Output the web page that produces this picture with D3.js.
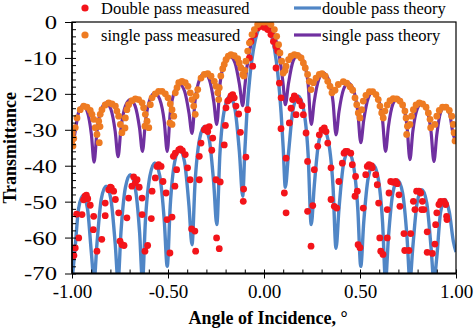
<!DOCTYPE html>
<html>
<head>
<meta charset="utf-8">
<script src="https://cdn.jsdelivr.net/npm/d3@7"></script>
<style>
  body { margin: 0; background: #fff; }
  svg { display: block; }
  text { font-family: "Liberation Serif", "Times New Roman", serif; fill: #000; }
</style>
</head>
<body>
<div id="wrapper"></div>
<script>
// angle of incidence (deg), transmittance (dB)
const doubleTheory = [
  [-1.0,-72],[-0.986,-64.3],[-0.9655,-51.9],[-0.9425,-48.3],[-0.9195,-51.9],[-0.899,-64.3],
  [-0.885,-72],[-0.87,-61.7],[-0.8475,-49.3],[-0.8225,-45.7],[-0.7975,-49.3],[-0.775,-61.7],
  [-0.76,-72],[-0.745,-58.5],[-0.722,-46.1],[-0.6965,-42.5],[-0.671,-46.1],[-0.648,-58.5],
  [-0.633,-72],[-0.6175,-55.2],[-0.594,-42.8],[-0.5685,-39.2],[-0.543,-42.8],[-0.5195,-55.2],
  [-0.504,-68],[-0.4885,-51.3],[-0.465,-38.9],[-0.4395,-35.3],[-0.414,-38.9],[-0.3905,-51.3],
  [-0.375,-62],[-0.3595,-45.1],[-0.336,-32.7],[-0.3105,-29.1],[-0.285,-32.7],[-0.2615,-45.1],
  [-0.246,-56.4],[-0.2295,-36.6],[-0.2055,-24.2],[-0.1785,-20.6],[-0.1515,-24.2],[-0.1275,-36.6],
  [-0.111,-48.5],[-0.1,-36],[-0.089,-25.2],[-0.072,-14.4],[-0.0555,-7.8],[-0.033,-2.6],[0,0],
  [0.033,-2.6],[0.0555,-7.8],[0.072,-14.4],[0.089,-25.2],[0.1,-35],
  [0.111,-46],[0.1275,-36.6],[0.1515,-24.2],[0.1785,-20.6],[0.2055,-24.2],[0.2295,-36.6],
  [0.246,-56.4],[0.2615,-45.8],[0.285,-33.4],[0.3105,-29.8],[0.336,-33.4],[0.3595,-45.8],
  [0.375,-63],[0.3905,-52],[0.414,-39.6],[0.4395,-36],[0.465,-39.6],[0.4885,-52],
  [0.504,-68],[0.5195,-55.7],[0.543,-43.3],[0.5685,-39.7],[0.594,-43.3],[0.6175,-55.7],
  [0.633,-72],[0.648,-60],[0.671,-47.6],[0.6965,-44],[0.722,-47.6],[0.745,-60],
  [0.76,-72],[0.775,-62.7],[0.7975,-50.3],[0.8225,-46.7],[0.8475,-50.3],[0.87,-62.7],
  [0.885,-72],[0.9,-65.4],[0.9195,-53],[0.9425,-49.4],[0.9655,-53],[0.986,-61],[1.0,-64]
]

const singleTheory = [
  [-1.0,-35],[-0.986,-31.3],[-0.9655,-25.1],[-0.9425,-23.3],[-0.9195,-25.1],[-0.899,-31.3],
  [-0.885,-39],[-0.87,-30.5],[-0.8475,-24.3],[-0.8225,-22.5],[-0.7975,-24.3],[-0.775,-30.5],
  [-0.76,-37.5],[-0.745,-29.6],[-0.722,-23.4],[-0.6965,-21.6],[-0.671,-23.4],[-0.648,-29.6],
  [-0.633,-36],[-0.6175,-27.7],[-0.594,-21.5],[-0.5685,-19.7],[-0.543,-21.5],[-0.5195,-27.7],
  [-0.504,-36],[-0.4885,-25.4],[-0.465,-19.2],[-0.4395,-17.4],[-0.414,-19.2],[-0.3905,-25.4],
  [-0.375,-31],[-0.3595,-22.2],[-0.336,-16],[-0.3105,-14.2],[-0.285,-16],[-0.2615,-22.2],
  [-0.246,-28.5],[-0.2295,-17.5],[-0.2055,-11.3],[-0.1785,-9.5],[-0.1515,-11.3],[-0.1275,-17.5],
  [-0.111,-23.3],[-0.1,-18],[-0.089,-12.6],[-0.072,-7.2],[-0.0555,-3.9],[-0.033,-1.3],[0,0],
  [0.033,-1.3],[0.0555,-3.9],[0.072,-7.2],[0.089,-12.6],[0.1,-17.5],
  [0.111,-23],[0.1275,-17.1],[0.1515,-10.9],[0.1785,-9.1],[0.2055,-10.9],[0.2295,-17.1],
  [0.246,-28.5],[0.2615,-22.2],[0.285,-16],[0.3105,-14.2],[0.336,-16],[0.3595,-22.2],
  [0.375,-31.4],[0.3905,-25],[0.414,-18.8],[0.4395,-17],[0.465,-18.8],[0.4885,-25],
  [0.504,-33.6],[0.5195,-27.3],[0.543,-21.1],[0.5685,-19.3],[0.594,-21.1],[0.6175,-27.3],
  [0.633,-36],[0.648,-29.1],[0.671,-22.9],[0.6965,-21.1],[0.722,-22.9],[0.745,-29.1],
  [0.76,-38.3],[0.775,-30.5],[0.7975,-24.3],[0.8225,-22.5],[0.8475,-24.3],[0.87,-30.5],
  [0.885,-38.8],[0.9,-31.4],[0.9195,-25.2],[0.9425,-23.4],[0.9655,-25.2],[0.986,-31.4],[1.0,-33]
]

const doubleMeasured = [
  [-0.99,-65],[-0.983,-62.9],[-0.976,-53.5],[-0.965,-60.1],[-0.948,-53.6],[-0.94,-49.5],[-0.932,-48.5],
  [-0.925,-48.2],[-0.918,-49.2],[-0.905,-51],[-0.887,-54.1],[-0.889,-57.8],[-0.87,-63.8],
  [-0.845,-60.5],[-0.827,-53.9],[-0.827,-50.4],[-0.809,-46.7],[-0.8,-46],[-0.795,-46.2],[-0.783,-47.1],
  [-0.774,-49.4],[-0.757,-53.1],[-0.75,-61],[-0.74,-62],[-0.729,-62.2],
  [-0.714,-54.5],[-0.705,-49],[-0.688,-45.7],[-0.679,-43.1],[-0.67,-44.8],[-0.661,-43.9],[-0.65,-46],
  [-0.635,-49],[-0.635,-53.6],[-0.62,-63.8],[-0.606,-62.2],
  [-0.587,-54.7],[-0.583,-47.1],[-0.566,-43.4],[-0.557,-40.2],[-0.549,-39.7],[-0.536,-40.2],[-0.526,-44.4],
  [-0.51,-47.6],[-0.505,-55],[-0.49,-64.3],[-0.479,-54.3],
  [-0.472,-37.4],[-0.464,-45.7],[-0.462,-36.5],[-0.455,-41.1],[-0.444,-35.6],[-0.436,-35.3],[-0.425,-35.8],
  [-0.41,-36.9],[-0.398,-40.6],[-0.385,-43.9],[-0.377,-57.6],[-0.36,-58.2],[-0.356,-63.8],
  [-0.337,-43.9],[-0.337,-37.4],[-0.328,-33.7],[-0.311,-30],[-0.302,-29.5],[-0.293,-30.5],[-0.285,-29.1],
  [-0.272,-35.7],[-0.267,-32.3],[-0.25,-43.9],[-0.247,-60.1],[-0.233,-63.1],[-0.228,-44.5],
  [-0.207,-34.2],[-0.201,-28.8],[-0.198,-23.9],[-0.189,-22],[-0.18,-21.6],[-0.172,-20.6],[-0.163,-20.2],
  [-0.155,-21.1],[-0.146,-23.4],[-0.132,-25.6],[-0.123,-30.7],[-0.108,-49.9],[-0.106,-46.5],[-0.094,-37.6],
  [-0.085,-24.4],
  [-0.076,-10],[-0.068,-5.4],[-0.059,-12.3],[-0.05,-3.5],[-0.033,-1.7],[-0.016,-1.2],[0.002,-1.5],
  [0.019,-2.1],[0.036,-3.5],[0.049,-5.4],[0.0625,-6.8],[0.0625,-12.8],[0.071,-8.1],[0.08,-17],[0.089,-21.1],
  [0.0885,-29.7],[0.106,-47.6],[0.115,-53.1],[0.115,-37.9],[0.132,-28.1],[0.141,-24],[0.149,-21.6],
  [0.158,-20.6],[0.167,-21.1],[0.184,-22],[0.198,-23.3],[0.205,-25.8],[0.167,-25.8],[0.219,-30.9],
  [0.227,-38.8],[0.227,-52.7],[0.245,-62.4],[0.254,-51.1],
  [0.262,-41.1],[0.28,-34.6],[0.288,-31.4],[0.302,-30],[0.314,-29.5],[0.323,-30.5],[0.332,-33.7],
  [0.349,-40.6],[0.349,-49.4],[0.366,-51.3],[0.379,-51.8],
  [0.39,-44.4],[0.408,-39.3],[0.417,-36.5],[0.425,-36],[0.434,-36],[0.452,-36.5],[0.46,-39.7],
  [0.474,-48.5],[0.477,-43],[0.486,-47.1],[0.49,-62],[0.5,-62.8],
  [0.517,-51.8],[0.53,-42.5],[0.538,-40.2],[0.547,-39.7],[0.559,-40],[0.564,-40.6],[0.582,-42.5],
  [0.59,-45.3],[0.597,-50.4],[0.603,-60.1],[0.608,-63.8],[0.62,-64.7],[0.642,-60.1],
  [0.642,-52.2],[0.651,-47.6],[0.66,-44.4],[0.673,-44.6],[0.686,-44.4],[0.694,-45],[0.703,-48.1],
  [0.708,-51.3],[0.729,-58.9],[0.733,-63.6],[0.755,-63.6],[0.764,-58.9],
  [0.778,-49.9],[0.786,-52.2],[0.795,-47.1],[0.807,-47.1],[0.816,-47.6],[0.821,-52.2],[0.825,-49.9],
  [0.833,-52.2],[0.85,-58.4],[0.85,-64.1],[0.877,-64.4],
  [0.89,-61.8],[0.894,-56.4],[0.9,-53.1],[0.911,-50.8],[0.92,-49.9],[0.9375,-49.9],[0.946,-50.8],
  [0.951,-54.1],[0.953,-55]
]

const singleMeasured = [
  [-1.0,-33],[-0.998,-30.8],[-0.995,-34.5],[-0.991,-32.4],[-0.983,-29.4],[-0.974,-26.7],[-0.957,-24.4],
  [-0.939,-23.4],[-0.922,-23.7],[-0.905,-24.6],[-0.896,-25.7],[-0.887,-27.1],[-0.879,-29.4],[-0.87,-31.3],
  [-0.858,-33.6],[-0.854,-29.1],
  [-0.861,-27.6],[-0.853,-25.7],[-0.844,-24.4],[-0.827,-23.1],[-0.809,-22.5],[-0.792,-22.8],[-0.774,-23.4],
  [-0.766,-24.8],[-0.757,-26.2],[-0.748,-28.5],[-0.74,-30.8],
  [-0.724,-29.5],[-0.722,-26.7],[-0.714,-24.4],[-0.705,-23],[-0.688,-21.9],[-0.67,-21.4],[-0.653,-21.6],
  [-0.635,-22.5],[-0.627,-23.9],[-0.618,-25.7],[-0.609,-27.6],[-0.62,-29],[-0.6,-29.4],
  [-0.592,-23],[-0.583,-21.1],[-0.566,-20],[-0.549,-19.3],[-0.531,-19.3],[-0.514,-20],[-0.5,-21.1],
  [-0.488,-22.8],[-0.479,-24.4],[-0.47,-26.2],[-0.49,-28.1],[-0.479,-28.5],
  [-0.462,-19.7],[-0.453,-18.3],[-0.444,-16.9],[-0.427,-16.5],[-0.41,-16.9],[-0.396,-17.9],[-0.384,-19.7],
  [-0.375,-21.6],[-0.366,-23.4],[-0.358,-25.7],
  [-0.354,-20.6],[-0.345,-18.8],[-0.328,-15.6],[-0.311,-14.6],[-0.293,-14.4],[-0.276,-15.1],[-0.259,-16.5],
  [-0.25,-17.9],[-0.241,-19.7],[-0.236,-21.6],
  [-0.233,-18.3],[-0.225,-15],[-0.215,-13],[-0.207,-11.8],[-0.198,-10.5],[-0.186,-9.5],[-0.172,-9.1],
  [-0.155,-9.4],[-0.137,-10.2],[-0.129,-11.4],[-0.12,-12.8],[-0.111,-14.6],[-0.105,-15],[-0.1,-13.5],
  [-0.094,-10.9],[-0.085,-8.1],[-0.076,-5.8],[-0.0625,-3.5],[-0.05,-2.1],[-0.033,-0.7],[-0.016,0],[0,0],
  [0.019,0],[0.036,-0.7],[0.054,-2.1],[0.066,-4],[0.076,-6.3],[0.083,-8.6],[0.092,-10.9],[0.1,-14.2],
  [0.11,-13.5],[0.115,-12.3],[0.128,-10.5],[0.141,-9.5],[0.158,-9.1],[0.175,-9.3],[0.193,-10],[0.205,-11.4],
  [0.215,-12.8],[0.227,-14.6],[0.236,-16.5],
  [0.245,-18.8],[0.257,-16.9],[0.271,-15.6],[0.288,-14.6],[0.302,-14.4],[0.319,-15.1],[0.332,-16.5],
  [0.344,-17.9],[0.354,-19.7],
  [0.37,-19],[0.387,-17.4],[0.413,-16.6],[0.431,-17],[0.448,-18],[0.462,-19],[0.474,-21.1],[0.483,-23],
  [0.491,-25.3],[0.5,-26.7],
  [0.509,-24.4],[0.517,-22],[0.531,-20.4],[0.549,-19.4],[0.566,-19.4],[0.583,-20.2],[0.595,-21.6],
  [0.604,-23.4],[0.613,-25.3],[0.621,-26.7],
  [0.63,-24.8],[0.642,-23.1],[0.656,-21.9],[0.673,-21.3],[0.691,-21.4],[0.708,-22],[0.722,-23.1],
  [0.734,-24.8],[0.74,-26.7],[0.747,-29],[0.743,-31.3],
  [0.76,-28.5],[0.769,-26.2],[0.778,-24.4],[0.792,-23.1],[0.809,-22.5],[0.826,-22.8],[0.844,-23.7],
  [0.856,-25.3],[0.865,-27.1],[0.868,-29.4],
  [0.89,-28.5],[0.9,-26.2],[0.913,-24.6],[0.93,-23.7],[0.948,-23.7],[0.965,-24.6],[0.978,-26.2],
  [0.986,-28.5],[0.99,-30.8],[0.995,-33.1]
]

const xTicks = [-1, -0.5, 0, 0.5, 1]
const yTicks = [0, -10, -20, -30, -40, -50, -60, -70]

const colors = {
  doubleMeasured: "#f3141a",
  singleMeasured: "#ee7b22",
  doubleTheory: "#5086c6",
  singleTheory: "#7030a0",
}

const width = 474
const height = 331
const margin = { top: 22, right: 18, bottom: 57.5, left: 72 }

const svg = d3.select("#wrapper")
  .append("svg")
  .attr("width", width)
  .attr("height", height)

const xScale = d3.scaleLinear()
  .domain([-1, 1])
  .range([margin.left, width - margin.right])

const yScale = d3.scaleLinear()
  .domain([-70, 0])
  .range([height - margin.bottom, margin.top])

svg.append("clipPath")
  .attr("id", "plot-clip")
  .append("rect")
  .attr("x", margin.left)
  .attr("y", margin.top)
  .attr("width", width - margin.left - margin.right)
  .attr("height", height - margin.top - margin.bottom)

const plot = svg.append("g").attr("clip-path", "url(#plot-clip)")

const line = d3.line()
  .x(d => xScale(d[0]))
  .y(d => yScale(d[1]))
  .curve(d3.curveMonotoneX)

plot.append("path")
  .datum(doubleTheory)
  .attr("d", line)
  .attr("fill", "none")
  .attr("stroke", colors.doubleTheory)
  .attr("stroke-width", 3.4)

plot.append("path")
  .datum(singleTheory)
  .attr("d", line)
  .attr("fill", "none")
  .attr("stroke", colors.singleTheory)
  .attr("stroke-width", 3.2)

plot.selectAll(".red")
  .data(doubleMeasured)
  .enter().append("circle")
  .attr("class", "red")
  .attr("cx", d => xScale(d[0]))
  .attr("cy", d => yScale(d[1]))
  .attr("r", 3.4)
  .attr("fill", colors.doubleMeasured)

plot.selectAll(".orange")
  .data(singleMeasured)
  .enter().append("circle")
  .attr("class", "orange")
  .attr("cx", d => xScale(d[0]))
  .attr("cy", d => yScale(d[1]))
  .attr("r", 3.4)
  .attr("fill", colors.singleMeasured)

// frame
const x0 = margin.left, x1 = width - margin.right
const y0 = margin.top, y1 = height - margin.bottom
svg.append("rect")
  .attr("x", x0).attr("y", y0)
  .attr("width", x1 - x0).attr("height", y1 - y0)
  .attr("fill", "none")
  .attr("stroke", "#000")
  .attr("stroke-width", 1.2)

// y axis (labels are drawn wide in the original)
const yAxis = svg.append("g")
  .attr("transform", `translate(${x0},0)`)
  .call(d3.axisLeft(yScale).tickValues(yTicks).tickSize(7).tickFormat(d => String(d)))
yAxis.select(".domain").remove()
yAxis.selectAll("text")
  .attr("x", 0)
  .attr("dy", "0.34em")
  .attr("transform", "translate(-15,0) scale(1.3,1)")
  .style("font-size", "19px")
  .style("font-family", "'Liberation Serif', serif")

const yMinor = svg.append("g")
  .attr("transform", `translate(${x0},0)`)
  .call(d3.axisRight(yScale).tickValues(d3.range(-70, 1, 2)).tickSize(4).tickFormat(""))
yMinor.select(".domain").remove()

// x axis
const xAxis = svg.append("g")
  .attr("transform", `translate(0,${y1})`)
  .call(d3.axisBottom(xScale).tickValues(xTicks).tickSize(5).tickPadding(6)
    .tickFormat(d => d3.format(".2f")(d).replace("−", "-")))
xAxis.select(".domain").remove()
xAxis.selectAll("text")
  .style("font-size", "19px")
  .style("font-family", "'Liberation Serif', serif")

const xMinor = svg.append("g")
  .attr("transform", `translate(0,${y1})`)
  .call(d3.axisTop(xScale).tickValues(d3.range(-10, 11).map(i => i / 10)).tickSize(4).tickFormat(""))
xMinor.select(".domain").remove()

svg.selectAll(".tick line").attr("stroke", "#000").attr("stroke-width", 1)

// bottom and left axis lines a bit heavier
svg.append("line")
  .attr("x1", x0).attr("x2", x1).attr("y1", y1).attr("y2", y1)
  .attr("stroke", "#000").attr("stroke-width", 2)
svg.append("line")
  .attr("x1", x0).attr("x2", x0).attr("y1", y0).attr("y2", y1)
  .attr("stroke", "#000").attr("stroke-width", 1.4)

// axis titles
svg.append("text")
  .attr("x", xScale(0) + 4)
  .attr("y", 324)
  .attr("text-anchor", "middle")
  .style("font-size", "18px")
  .style("font-weight", "bold")
  .text("Angle of Incidence, °")

svg.append("text")
  .attr("transform", `translate(16,${(y0 + y1) / 2}) rotate(-90)`)
  .attr("text-anchor", "middle")
  .style("font-size", "18px")
  .style("font-weight", "bold")
  .text("Transmittance")

// legend
const legend = svg.append("g")
const legendRows = [
  { label: "Double pass measured", key: "doubleMeasured", type: "dot", x: 85, y: 8 },
  { label: "double pass theory", key: "doubleTheory", type: "line", x: 294, y: 8 },
  { label: "single pass measured", key: "singleMeasured", type: "dot", x: 85, y: 35 },
  { label: "single pass theory", key: "singleTheory", type: "line", x: 294, y: 35 },
]
legendRows.forEach(item => {
  if (item.type === "dot") {
    legend.append("circle")
      .attr("cx", item.x).attr("cy", item.y).attr("r", 3.6)
      .attr("fill", colors[item.key])
    legend.append("text")
      .attr("x", item.x + 16).attr("y", item.y + 5.5)
      .style("font-size", "16.5px")
      .text(item.label)
  } else {
    legend.append("line")
      .attr("x1", item.x).attr("x2", item.x + 27)
      .attr("y1", item.y).attr("y2", item.y)
      .attr("stroke", colors[item.key]).attr("stroke-width", 3.2)
    legend.append("text")
      .attr("x", item.x + 28).attr("y", item.y + 5.5)
      .style("font-size", "16.5px")
      .text(item.label)
  }
})
</script>
</body>
</html>
